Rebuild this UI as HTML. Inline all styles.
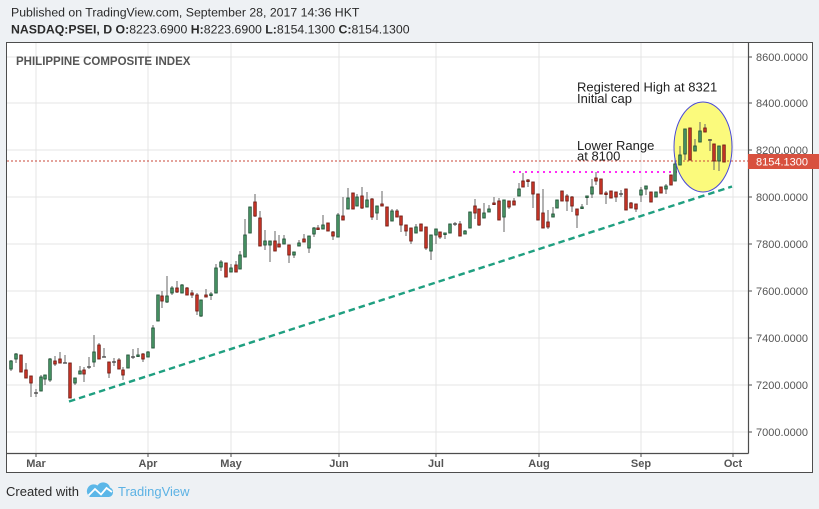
<!DOCTYPE html>
<html>
<head>
<meta charset="utf-8">
<style>
html,body{margin:0;padding:0;background:#eef1f4;}
svg{display:block;}
text{font-family:"Liberation Sans",Arial,sans-serif;}
.g{fill:#4e9f6c;stroke:#1d4f33;stroke-width:0.9;}
.r{fill:#d4392a;stroke:#6e1a12;stroke-width:0.9;}
.yl{font-size:11px;fill:#555;}
.xl{font-size:11px;fill:#555;font-weight:bold;}
.ann{font-size:13px;fill:#222;}
</style>
</head>
<body>
<svg width="819" height="509" viewBox="0 0 819 509" xmlns="http://www.w3.org/2000/svg">
<rect x="0" y="0" width="819" height="509" fill="#eef1f4"/>
<!-- header -->
<text x="11" y="16.5" font-size="12.3" fill="#2a2a2a">Published on TradingView.com, September 28, 2017 14:36 HKT</text>
<text x="11" y="33.5" font-size="12.3" fill="#2a2a2a"><tspan font-weight="bold">NASDAQ:PSEI, D</tspan> <tspan font-weight="bold">O:</tspan>8223.6900 <tspan font-weight="bold">H:</tspan>8223.6900 <tspan font-weight="bold">L:</tspan>8154.1300 <tspan font-weight="bold">C:</tspan>8154.1300</text>

<!-- panel -->
<rect x="6.5" y="42.5" width="806" height="430" fill="#ffffff" stroke="#4d4d4d" stroke-width="1"/>

<!-- grid -->
<g stroke="#e4e4e4" stroke-width="1">
<path d="M7 57H748M7 103H748M7 150H748M7 197H748M7 244H748M7 291H748M7 338H748M7 385H748M7 432H748"/>
<path d="M36 43V453M148 43V453M231 43V453M339 43V453M436 43V453M539 43V453M641 43V453M733 43V453"/>
</g>

<text x="16" y="65" font-size="11.5" font-weight="bold" fill="#555">PHILIPPINE COMPOSITE INDEX</text>

<!-- ellipse fill -->
<ellipse cx="703" cy="147" rx="29" ry="45" fill="#fbfa7c"/>

<!-- current price line -->
<line x1="7" y1="161" x2="748" y2="161" stroke="#c9473a" stroke-width="1" stroke-dasharray="2 2"/>
<!-- pink dotted -->
<line x1="513" y1="172" x2="679" y2="172" stroke="#ff2df5" stroke-width="2" stroke-dasharray="2 4"/>
<!-- trend line -->
<line x1="69" y1="401.5" x2="732" y2="186.5" stroke="#1f9f80" stroke-width="2.4" stroke-dasharray="6.5 4"/>

<!-- wicks -->
<path stroke="#666" stroke-width="1" fill="none" d="M11 360V371M16 353V363M21 355V372M26 363V378M31 376V397M36 389V397M41 375V391M45 375V385M50 358V382M55 356V366M60 352V363M65 355V363M70 363V398M75 378V385M80 366V374M84 367V382M89 357V369M94 335V367M99 343V359M104 348V357M109 362V378M114 358V366M119 358V369M123 367V380M128 355V368M133 349V359M138 348V356M143 353V362M148 351V357M153 325V348M158 295V321M162 291V308M167 276V303M172 286V295M177 281V293M182 284V293M187 287V295M192 290V298M197 293V315M201 300V317M206 289V297M211 292V300M216 264V293M221 260V271M226 263V277M231 264V272M236 261V272M240 251V269M245 219V257M250 207V233M255 194V217M260 211V246M265 230V250M270 241V262M275 231V251M279 235V247M284 235V244M289 245V263M294 252V258M299 240V246M304 234V242M309 236V253M314 227V237M318 225V229M323 215V229M328 223V231M333 231V240M338 213V237M343 197V220M348 188V209M353 193V209M357 194V206M362 187V209M367 192V207M372 198V220M377 206V220M382 191V206M387 207V226M392 209V221M397 209V217M401 216V232M406 225V236M411 228V244M416 224V233M421 224V231M426 227V250M431 235V260M436 229V244M440 232V239M445 233V239M450 224V233M455 222V226M460 221V236M465 230V234M470 212V228M475 199V219M479 209V226M484 203V218M489 205V212M494 197V205M499 198V220M504 200V232M509 201V209M514 198V205M519 183V196M523 173V187M528 179V187M533 182V208M538 194V220M543 189V228M548 210V229M553 207V217M557 200V208M562 191V201M567 194V211M572 196V212M577 209V228M582 204V208M587 196V205M592 179V198M596 172V185M601 179V194M606 191V204M611 191V198M616 192V202M621 190V197M626 189V210M631 202V208M636 204V212M641 187V202M646 186V195M651 192V202M656 192V197M661 187V193M666 184V194M671 175V185M675 158V181M680 146V165M685 129V160M690 128V160M695 139V151M700 122V142M705 124V132M710 139V151M714 144V170M719 146V171M724 145V162"/>

<!-- dojis -->
<path stroke="#3a3a3a" stroke-width="1.2" d="M34 393H38M63 363H67M87 367H91M102 357H106M112 362H116M131 357H135M453 224H457M619 194H623M708 140H712"/>

<!-- green bodies -->
<g class="g">
<rect x="9.75" y="361" width="2.5" height="8"/>
<rect x="14.75" y="354" width="2.5" height="5"/>
<rect x="39.75" y="377" width="2.5" height="14"/>
<rect x="43.75" y="375" width="2.5" height="4"/>
<rect x="48.75" y="359" width="2.5" height="21"/>
<rect x="73.75" y="378" width="2.5" height="5"/>
<rect x="78.75" y="371" width="2.5" height="3"/>
<rect x="92.75" y="352" width="2.5" height="10"/>
<rect x="126.75" y="355" width="2.5" height="13"/>
<rect x="136.75" y="355" width="2.5" height="1.5"/>
<rect x="146.75" y="352" width="2.5" height="5"/>
<rect x="151.75" y="328" width="2.5" height="20"/>
<rect x="156.75" y="295" width="2.5" height="26"/>
<rect x="165.75" y="296" width="2.5" height="6"/>
<rect x="170.75" y="288" width="2.5" height="5"/>
<rect x="180.75" y="285" width="2.5" height="8"/>
<rect x="199.75" y="300" width="2.5" height="16"/>
<rect x="209.75" y="294" width="2.5" height="1.5"/>
<rect x="214.75" y="268" width="2.5" height="25"/>
<rect x="219.75" y="262" width="2.5" height="5"/>
<rect x="229.75" y="268" width="2.5" height="4"/>
<rect x="238.75" y="255" width="2.5" height="14"/>
<rect x="243.75" y="235" width="2.5" height="22"/>
<rect x="248.75" y="207" width="2.5" height="26"/>
<rect x="263.75" y="241" width="2.5" height="4"/>
<rect x="268.75" y="241" width="2.5" height="4"/>
<rect x="282.75" y="239" width="2.5" height="5"/>
<rect x="292.75" y="252" width="2.5" height="3"/>
<rect x="297.75" y="243" width="2.5" height="3"/>
<rect x="307.75" y="236" width="2.5" height="12"/>
<rect x="312.75" y="228" width="2.5" height="6"/>
<rect x="321.75" y="225" width="2.5" height="4"/>
<rect x="336.75" y="215" width="2.5" height="22"/>
<rect x="346.75" y="198" width="2.5" height="11"/>
<rect x="355.75" y="197" width="2.5" height="9"/>
<rect x="365.75" y="200" width="2.5" height="7"/>
<rect x="375.75" y="206" width="2.5" height="7"/>
<rect x="390.75" y="211" width="2.5" height="10"/>
<rect x="414.75" y="227" width="2.5" height="6"/>
<rect x="429.75" y="235" width="2.5" height="16"/>
<rect x="434.75" y="229" width="2.5" height="6"/>
<rect x="443.75" y="233" width="2.5" height="1.5"/>
<rect x="448.75" y="224" width="2.5" height="9"/>
<rect x="463.75" y="231" width="2.5" height="3"/>
<rect x="468.75" y="212" width="2.5" height="16"/>
<rect x="482.75" y="213" width="2.5" height="5"/>
<rect x="487.75" y="209" width="2.5" height="3"/>
<rect x="502.75" y="200" width="2.5" height="17"/>
<rect x="517.75" y="189" width="2.5" height="7"/>
<rect x="551.75" y="214" width="2.5" height="3"/>
<rect x="555.75" y="200" width="2.5" height="8"/>
<rect x="580.75" y="207" width="2.5" height="1.5"/>
<rect x="585.75" y="196" width="2.5" height="1.5"/>
<rect x="590.75" y="187" width="2.5" height="7"/>
<rect x="639.75" y="190" width="2.5" height="5"/>
<rect x="644.75" y="186" width="2.5" height="3"/>
<rect x="654.75" y="192" width="2.5" height="5"/>
<rect x="664.75" y="186" width="2.5" height="3"/>
<rect x="673.75" y="164" width="2.5" height="17"/>
<rect x="678.75" y="155" width="2.5" height="10"/>
<rect x="683.75" y="129" width="2.5" height="25"/>
<rect x="693.75" y="146" width="2.5" height="5"/>
<rect x="698.75" y="131" width="2.5" height="11"/>
<rect x="717.75" y="146" width="2.5" height="15"/>
</g>

<!-- red bodies -->
<g class="r">
<rect x="19.75" y="355" width="2.5" height="17"/>
<rect x="24.75" y="370" width="2.5" height="8"/>
<rect x="29.75" y="376" width="2.5" height="7"/>
<rect x="53.75" y="361" width="2.5" height="3"/>
<rect x="58.75" y="359" width="2.5" height="4"/>
<rect x="68.75" y="363" width="2.5" height="35"/>
<rect x="82.75" y="370" width="2.5" height="4"/>
<rect x="97.75" y="345" width="2.5" height="14"/>
<rect x="107.75" y="362" width="2.5" height="11"/>
<rect x="117.75" y="360" width="2.5" height="9"/>
<rect x="121.75" y="370" width="2.5" height="5"/>
<rect x="141.75" y="354" width="2.5" height="5"/>
<rect x="160.75" y="296" width="2.5" height="5"/>
<rect x="175.75" y="288" width="2.5" height="4"/>
<rect x="185.75" y="288" width="2.5" height="7"/>
<rect x="190.75" y="293" width="2.5" height="2"/>
<rect x="195.75" y="295" width="2.5" height="16"/>
<rect x="204.75" y="295" width="2.5" height="2"/>
<rect x="224.75" y="263" width="2.5" height="14"/>
<rect x="234.75" y="265" width="2.5" height="7"/>
<rect x="253.75" y="202" width="2.5" height="14"/>
<rect x="258.75" y="218" width="2.5" height="28"/>
<rect x="273.75" y="241" width="2.5" height="10"/>
<rect x="277.75" y="244" width="2.5" height="3"/>
<rect x="287.75" y="245" width="2.5" height="10"/>
<rect x="302.75" y="239" width="2.5" height="3"/>
<rect x="316.75" y="228" width="2.5" height="1.5"/>
<rect x="326.75" y="223" width="2.5" height="8"/>
<rect x="331.75" y="232" width="2.5" height="4"/>
<rect x="341.75" y="216" width="2.5" height="4"/>
<rect x="351.75" y="193" width="2.5" height="16"/>
<rect x="360.75" y="196" width="2.5" height="12"/>
<rect x="370.75" y="199" width="2.5" height="18"/>
<rect x="380.75" y="204" width="2.5" height="2"/>
<rect x="385.75" y="207" width="2.5" height="19"/>
<rect x="395.75" y="211" width="2.5" height="6"/>
<rect x="399.75" y="216" width="2.5" height="9"/>
<rect x="404.75" y="225" width="2.5" height="6"/>
<rect x="409.75" y="228" width="2.5" height="13"/>
<rect x="419.75" y="224" width="2.5" height="7"/>
<rect x="424.75" y="227" width="2.5" height="21"/>
<rect x="438.75" y="232" width="2.5" height="5"/>
<rect x="458.75" y="224" width="2.5" height="12"/>
<rect x="473.75" y="206" width="2.5" height="7"/>
<rect x="477.75" y="209" width="2.5" height="16"/>
<rect x="492.75" y="203" width="2.5" height="1.5"/>
<rect x="497.75" y="201" width="2.5" height="19"/>
<rect x="507.75" y="201" width="2.5" height="6"/>
<rect x="512.75" y="201" width="2.5" height="4"/>
<rect x="521.75" y="181" width="2.5" height="6"/>
<rect x="526.75" y="180" width="2.5" height="1.5"/>
<rect x="531.75" y="182" width="2.5" height="12"/>
<rect x="536.75" y="194" width="2.5" height="26"/>
<rect x="541.75" y="213" width="2.5" height="15"/>
<rect x="546.75" y="222" width="2.5" height="5"/>
<rect x="560.75" y="191" width="2.5" height="10"/>
<rect x="565.75" y="196" width="2.5" height="5"/>
<rect x="570.75" y="197" width="2.5" height="9"/>
<rect x="575.75" y="209" width="2.5" height="6"/>
<rect x="594.75" y="178" width="2.5" height="3"/>
<rect x="599.75" y="179" width="2.5" height="15"/>
<rect x="604.75" y="193" width="2.5" height="1.5"/>
<rect x="609.75" y="191" width="2.5" height="7"/>
<rect x="614.75" y="192" width="2.5" height="5"/>
<rect x="624.75" y="189" width="2.5" height="21"/>
<rect x="629.75" y="203" width="2.5" height="5"/>
<rect x="634.75" y="204" width="2.5" height="5"/>
<rect x="649.75" y="192" width="2.5" height="10"/>
<rect x="659.75" y="187" width="2.5" height="6"/>
<rect x="669.75" y="175" width="2.5" height="10"/>
<rect x="688.75" y="128" width="2.5" height="32"/>
<rect x="703.75" y="128" width="2.5" height="4"/>
<rect x="712.75" y="144" width="2.5" height="17"/>
<rect x="722.75" y="145" width="2.5" height="17"/>
</g>

<!-- ellipse stroke -->
<ellipse cx="703" cy="147" rx="29" ry="45" fill="none" stroke="#4b4bd6" stroke-width="1"/>

<!-- annotations -->
<text class="ann" x="577" y="91.5">Registered High at 8321</text>
<text class="ann" x="577" y="103">Initial cap</text>
<text class="ann" x="577" y="150">Lower Range</text>
<text class="ann" x="577" y="160.5">at 8100</text>

<!-- axes lines -->
<path d="M748.5 42V453.5M6 453.5H748.5" stroke="#4d4d4d" stroke-width="1.2" fill="none"/>
<!-- y ticks -->
<path stroke="#4d4d4d" stroke-width="1" d="M748 57H752M748 103H752M748 150H752M748 197H752M748 244H752M748 291H752M748 338H752M748 385H752M748 432H752"/>
<!-- x ticks -->
<path stroke="#4d4d4d" stroke-width="1" d="M36 453V457M148 453V457M231 453V457M339 453V457M436 453V457M539 453V457M641 453V457M733 453V457"/>

<!-- y labels -->
<text class="yl" x="756" y="61">8600.0000</text>
<text class="yl" x="756" y="107">8400.0000</text>
<text class="yl" x="756" y="154">8200.0000</text>
<text class="yl" x="756" y="201">8000.0000</text>
<text class="yl" x="756" y="248">7800.0000</text>
<text class="yl" x="756" y="295">7600.0000</text>
<text class="yl" x="756" y="342">7400.0000</text>
<text class="yl" x="756" y="389">7200.0000</text>
<text class="yl" x="756" y="436">7000.0000</text>

<!-- price label -->
<rect x="748" y="154" width="71" height="15" fill="#d8513f"/>
<text x="756" y="165.5" font-size="11" fill="#ffffff">8154.1300</text>

<!-- x labels -->
<text class="xl" x="36" y="467" text-anchor="middle">Mar</text>
<text class="xl" x="148" y="467" text-anchor="middle">Apr</text>
<text class="xl" x="231" y="467" text-anchor="middle">May</text>
<text class="xl" x="339" y="467" text-anchor="middle">Jun</text>
<text class="xl" x="436" y="467" text-anchor="middle">Jul</text>
<text class="xl" x="539" y="467" text-anchor="middle">Aug</text>
<text class="xl" x="641" y="467" text-anchor="middle">Sep</text>
<text class="xl" x="733" y="467" text-anchor="middle">Oct</text>

<!-- footer -->
<text x="6" y="496" font-size="13" fill="#2a2a2a">Created with</text>
<path d="M90 497H109A5 5 0 0 0 110 487.5A7 7 0 0 0 97.5 485.5A6 6 0 0 0 90 497Z" fill="#5cb7e8"/>
<polyline points="88.5,495.5 95,489 101,494.5 106.5,488 112,492" fill="none" stroke="#ffffff" stroke-width="1.8"/>
<text x="118" y="496" font-size="13" fill="#5cb2e4">TradingView</text>
</svg>
</body>
</html>
